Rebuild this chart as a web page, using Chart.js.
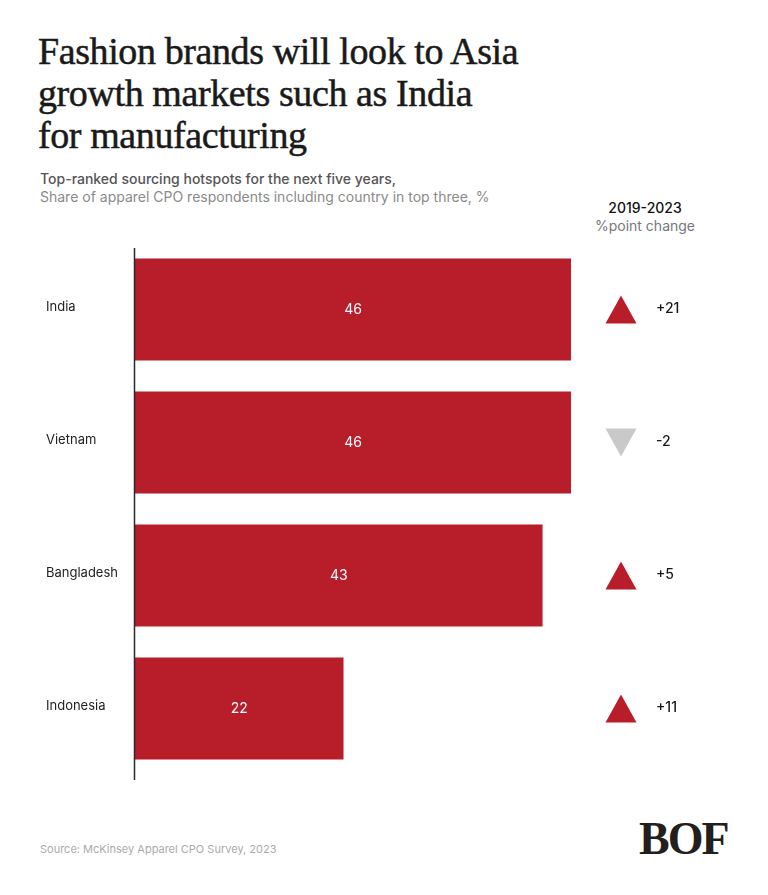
<!DOCTYPE html>
<html>
<head>
<meta charset="utf-8">
<script src="https://cdn.jsdelivr.net/npm/chart.js@4"></script>
<style>
  body { margin: 0; background: #fff; width: 768px; height: 895px; position: relative; overflow: hidden; }
  .title { position: absolute; left: 38px; top: 30px; font-family: "Liberation Serif", serif; font-size: 38px; line-height: 42px; color: #1a1a1a; letter-spacing: -0.4px; -webkit-text-stroke: 0.5px #1a1a1a; }
  .sub1 { position: absolute; left: 40px; top: 170px; font-family: Inter, sans-serif; font-size: 14px; color: #555; font-weight: 500; }
  .sub2 { position: absolute; left: 40px; top: 188px; font-family: Inter, sans-serif; font-size: 14px; color: #8a8a8a; }
  .head { position: absolute; left: 580px; width: 130px; top: 199px; text-align: center; font-family: Inter, sans-serif; font-size: 14px; line-height: 18px; }
  .source { position: absolute; left: 40px; top: 842px; font-family: Inter, sans-serif; font-size: 11px; color: #aaa; }
  .logo { position: absolute; left: 639px; top: 812px; font-family: "Liberation Serif", serif; font-size: 46px; font-weight: bold; color: #231f1c; letter-spacing: -2px; }
  #wrap { position: absolute; left: 0; top: 230px; width: 768px; height: 560px; }
</style>
</head>
<body>
<div class="title">Fashion brands will look to Asia<br>growth markets such as India<br>for manufacturing</div>
<div class="sub1">Top-ranked sourcing hotspots for the next five years,</div>
<div class="sub2">Share of apparel CPO respondents including country in top three, %</div>
<div class="head"><span style="color:#111;font-weight:500">2019-2023</span><br><span style="color:#777">%point change</span></div>
<div id="wrap"><canvas id="chart"></canvas></div>
<div class="source">Source: McKinsey Apparel CPO Survey, 2023</div>
<div class="logo">BOF</div>
<script>
const countries = ['India', 'Vietnam', 'Bangladesh', 'Indonesia'];
const shares = [46, 46, 43, 22];
const changes = [21, -2, 5, 11];

const RED = '#b81d2a';

// value labels inside bars, the axis line and the change column on the right
const extras = {
  id: 'extras',
  afterDatasetsDraw(chart) {
    const ctx = chart.ctx;
    const meta = chart.getDatasetMeta(0);
    const ys = chart.scales.y;
    const area = chart.chartArea;
    ctx.save();
    ctx.strokeStyle = '#2a2a2a';
    ctx.lineWidth = 1.5;
    ctx.beginPath();
    ctx.moveTo(area.left - 0.5, area.top + 5);
    ctx.lineTo(area.left - 0.5, area.bottom + 5);
    ctx.stroke();

    ctx.font = '14px Inter, sans-serif';
    ctx.fillStyle = '#fff';
    ctx.textAlign = 'center';
    ctx.textBaseline = 'middle';
    meta.data.forEach((bar, i) => {
      const cx = (bar.base + bar.x) / 2;
      ctx.fillText(String(shares[i]), cx, bar.y);
    });
    changes.forEach((c, i) => {
      const y = ys.getPixelForValue(i);
      const tx = 621, half = 15.5, h = 28;
      ctx.beginPath();
      if (c >= 0) {
        ctx.fillStyle = RED;
        ctx.moveTo(tx, y - h / 2);
        ctx.lineTo(tx + half, y + h / 2);
        ctx.lineTo(tx - half, y + h / 2);
      } else {
        ctx.fillStyle = '#c9c9c9';
        ctx.moveTo(tx - half, y - h / 2);
        ctx.lineTo(tx + half, y - h / 2);
        ctx.lineTo(tx, y + h / 2);
      }
      ctx.closePath();
      ctx.fill();
      ctx.fillStyle = '#1a1a1a';
      ctx.textAlign = 'left';
      ctx.font = '500 14px Inter, sans-serif';
      ctx.fillText((c > 0 ? '+' : '') + c, 656, y - 1);
    });
    ctx.restore();
  }
};

new Chart(document.getElementById('chart'), {
  type: 'bar',
  data: {
    labels: countries,
    datasets: [{
      data: shares,
      backgroundColor: RED,
      barPercentage: 0.767,
      categoryPercentage: 1
    }]
  },
  options: {
    indexAxis: 'y',
    responsive: true,
    maintainAspectRatio: false,
    animation: false,
    layout: { padding: { left: 46, right: 197, top: 13, bottom: 15 } },
    scales: {
      x: { display: false, min: 0, max: 46 },
      y: {
        grid: { display: false },
        border: { display: false },
        ticks: {
          crossAlign: 'far',
          padding: 0,
          color: '#222',
          font: { family: 'Inter, sans-serif', size: 13 },
          labelOffset: -2
        },
        afterFit(scale) { scale.width = 89; }
      }
    },
    plugins: { legend: { display: false }, tooltip: { enabled: false } }
  },
  plugins: [extras]
});
</script>
</body>
</html>
